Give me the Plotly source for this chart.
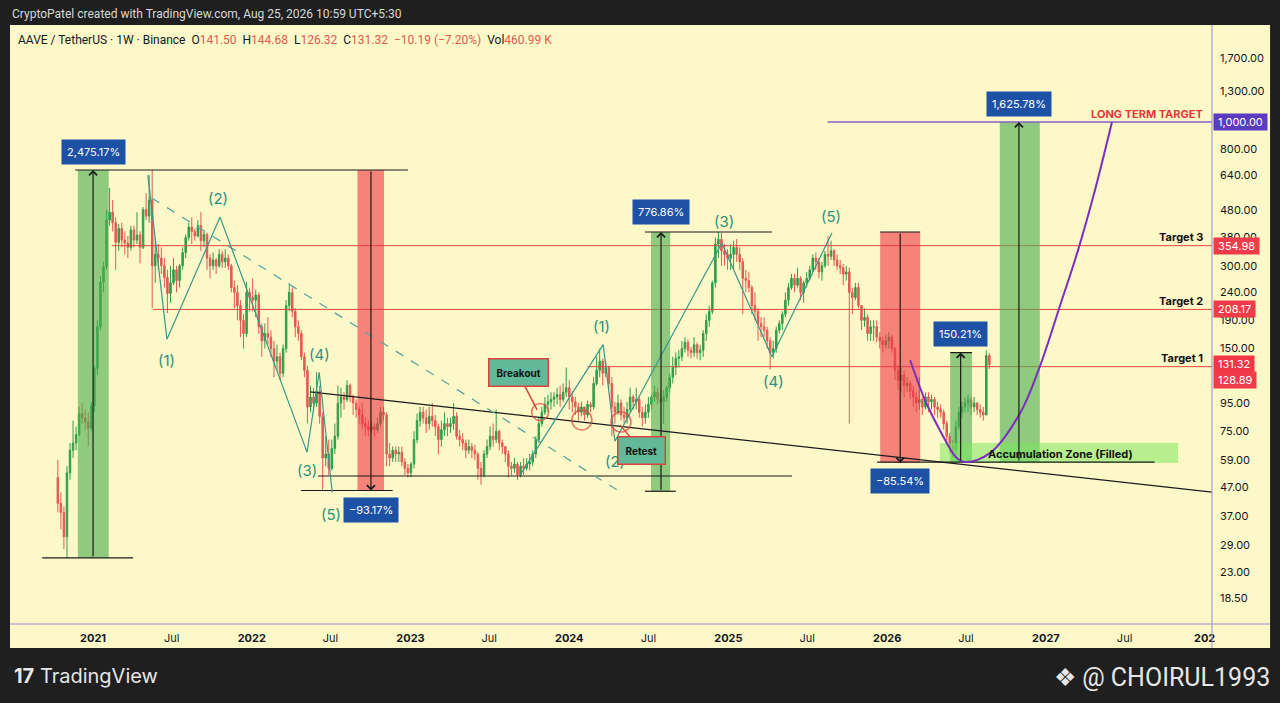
import numpy as np
import pandas as pd
import plotly.graph_objects as go

# ---- AAVE / USDT weekly candles (one row per month) ----
first_open = 51
closes_2020 = [41, 38, 31, 53, 64, 68, 73, 87, 84, 81, 77, 93]
highs_2020 = [59, 45, 40, 56, 68, 82, 78, 92, 95, 90, 88, 96]
lows_2020 = [38, 33, 28, 26, 50, 60, 64, 72, 80, 76, 66, 75]

closes_2021 = [127, 180, 262, 297, 440, 470, 430, 365, 410, 372, 363, 350, 405,
               372, 388, 350, 480, 455, 520, 300, 330, 320, 300, 272, 238, 260,
               290, 265, 300, 335, 380, 415, 400, 385, 420, 370, 390, 320, 300,
               315, 300, 330, 310, 320, 300, 250, 240, 215, 190, 170, 240, 230]
highs_2021 = [130, 190, 275, 310, 480, 575, 520, 450, 425, 430, 400, 385, 420,
              420, 470, 400, 490, 551, 641, 669, 380, 360, 350, 320, 290, 300,
              320, 300, 305, 350, 390, 430, 450, 410, 440, 470, 400, 395, 330,
              335, 320, 345, 340, 345, 330, 305, 265, 255, 225, 200, 262, 250]
lows_2021 = [88, 120, 175, 240, 290, 420, 400, 290, 340, 350, 330, 320, 340,
             350, 360, 306, 345, 440, 430, 210, 260, 290, 280, 250, 202, 220,
             255, 240, 250, 290, 320, 370, 360, 370, 380, 340, 350, 290, 270,
             290, 280, 295, 295, 295, 290, 240, 210, 190, 165, 150, 165, 205]

closes_2022 = [225, 235, 180, 160, 170, 165, 150, 135, 140, 122, 150, 215, 240,
               205, 180, 170, 140, 125, 92, 100, 95, 105, 85, 60, 62, 55,
               65, 72, 95, 100, 98, 110, 100, 95, 90, 86, 80, 78, 76,
               78, 76, 80, 88, 86, 62, 60, 64, 62, 63, 58, 55, 53]
highs_2022 = [270, 245, 240, 185, 185, 195, 175, 160, 155, 145, 155, 225, 260,
              250, 210, 190, 175, 145, 130, 110, 108, 123, 110, 88, 72, 70,
              70, 80, 110, 108, 104, 115, 112, 102, 98, 92, 95, 84, 82,
              82, 80, 84, 92, 92, 88, 68, 66, 66, 66, 66, 60, 57]
lows_2022 = [205, 195, 170, 140, 150, 155, 140, 118, 125, 115, 118, 145, 205,
             195, 165, 160, 136, 118, 80, 88, 88, 92, 80, 46, 56, 52,
             54, 62, 70, 84, 90, 96, 96, 86, 84, 80, 76, 72, 72,
             74, 72, 74, 78, 82, 56, 56, 58, 58, 58, 56, 52, 51]

closes_2023 = [57, 70, 82, 88, 84, 80, 85, 82, 78, 70, 76, 80, 78,
               80, 85, 72, 70, 68, 64, 66, 64, 62, 55, 52, 62, 66,
               72, 70, 75, 68, 66, 62, 56, 55, 57, 52, 56, 55, 57,
               58, 62, 70, 80, 88, 94, 96, 98, 100, 102, 98, 104, 108]
highs_2023 = [58, 75, 87, 92, 92, 90, 92, 95, 86, 80, 82, 88, 84,
              84, 95, 88, 76, 74, 70, 70, 68, 67, 63, 58, 64, 70,
              78, 80, 90, 76, 70, 66, 64, 58, 60, 58, 58, 60, 60,
              62, 64, 72, 84, 92, 100, 102, 104, 104, 108, 110, 112, 128]
lows_2023 = [51, 55, 68, 78, 80, 74, 76, 78, 72, 62, 66, 72, 72,
             74, 76, 70, 66, 64, 60, 62, 60, 59, 50, 48, 51, 60,
             64, 66, 68, 64, 62, 58, 51, 52, 53, 50, 51, 52, 54,
             54, 56, 60, 68, 78, 86, 88, 90, 92, 94, 92, 96, 100]

closes_2024 = [100, 96, 92, 88, 92, 86, 94, 92, 112, 125, 135, 122, 128,
               112, 92, 88, 95, 86, 84, 90, 100, 96, 98, 88, 84, 88,
               94, 100, 104, 98, 96, 100, 108, 118, 128, 138, 140, 150, 158, 148,
               145, 155, 145, 148, 170, 190, 205, 260, 360, 375, 340, 330, 320]
highs_2024 = [115, 105, 100, 95, 96, 92, 97, 96, 118, 140, 150, 138, 135,
              130, 118, 96, 102, 98, 92, 96, 108, 102, 108, 100, 92, 94,
              100, 102, 110, 108, 106, 106, 110, 122, 140, 145, 148, 160, 165, 162,
              152, 165, 158, 155, 175, 200, 215, 265, 380, 398, 395, 360, 345]
lows_2024 = [90, 88, 86, 82, 85, 82, 84, 88, 90, 110, 118, 110, 118,
             108, 72, 80, 86, 82, 80, 80, 88, 90, 90, 84, 78, 80,
             84, 90, 96, 94, 94, 80, 96, 104, 112, 120, 128, 135, 145, 140,
             138, 140, 138, 136, 140, 160, 180, 200, 250, 320, 300, 300, 290]

closes_2025 = [330, 350, 330, 310, 270, 265, 250, 215, 205, 185, 180, 175, 160,
               145, 150, 175, 185, 200, 225, 250, 270, 255, 270, 240, 260, 270,
               290, 320, 310, 285, 300, 330, 325, 340, 315, 300, 295, 280, 285,
               240, 230, 250, 215, 190, 195, 170, 180, 180, 165, 160, 155, 160]
highs_2025 = [360, 370, 375, 350, 320, 290, 285, 255, 240, 210, 195, 195, 180,
              165, 160, 180, 190, 205, 240, 260, 280, 280, 295, 275, 265, 285,
              300, 330, 335, 320, 310, 340, 385, 370, 345, 330, 315, 305, 300,
              295, 250, 260, 260, 215, 210, 200, 190, 190, 190, 172, 165, 168]
lows_2025 = [290, 290, 310, 290, 200, 240, 240, 200, 190, 160, 165, 165, 150,
             126, 138, 145, 170, 175, 195, 215, 245, 240, 250, 225, 220, 250,
             265, 285, 290, 270, 265, 295, 300, 315, 300, 290, 280, 255, 265,
             80, 200, 225, 210, 175, 180, 160, 160, 160, 158, 150, 145, 150]

closes_2026 = [165, 150, 125, 115, 120, 110, 112, 105, 100, 95, 98, 92, 100,
               96, 98, 92, 90, 88, 80, 72, 66, 64, 78, 88, 92, 95,
               98, 92, 95, 90, 88, 86, 141.5, 131.32]
highs_2026 = [172, 168, 152, 130, 128, 125, 118, 115, 110, 104, 118, 100, 104,
              104, 102, 100, 96, 94, 90, 82, 74, 70, 82, 92, 96, 100,
              102, 100, 100, 96, 94, 92, 148, 144.68]
lows_2026 = [150, 145, 115, 106, 104, 100, 104, 98, 92, 88, 90, 86, 90,
             88, 90, 86, 84, 84, 76, 68, 62, 60, 62, 76, 84, 88,
             88, 86, 88, 86, 84, 82, 86, 126.32]

closes = closes_2020 + closes_2021 + closes_2022 + closes_2023 + closes_2024 + closes_2025 + closes_2026
highs = highs_2020 + highs_2021 + highs_2022 + highs_2023 + highs_2024 + highs_2025 + highs_2026
lows = lows_2020 + lows_2021 + lows_2022 + lows_2023 + lows_2024 + lows_2025 + lows_2026
opens = [first_open] + closes[:-1]
weeks = pd.date_range("2020-10-12", periods=len(closes), freq="W-MON")

# ---- drawings (dates / prices) ----
x_end = "2028-01-18"

# measured moves: coloured band + arrow + blue % label
move_start = ["2020-11-27", "2022-09-01", "2024-07-07", "2025-12-16", "2026-05-26", "2026-09-17"]
move_end = ["2021-02-06", "2022-11-01", "2024-08-20", "2026-03-18", "2026-07-15", "2026-12-18"]
move_mid = ["2021-01-01", "2022-10-02", "2024-07-30", "2026-01-31", "2026-06-19", "2026-10-31"]
move_from = [26, 669, 45.4, 398, 57.95, 57.95]
move_to = [669, 45.7, 398, 57.6, 145, 1000]
move_text = ["2,475.17%", "−93.17%", "776.86%", "−85.54%", "150.21%", "1,625.78%"]
move_label_price = [778, 38.8, 471, 49.5, 169.5, 1163]

# black horizontal rulers
ruler_x0 = ["2020-11-21", "2020-09-06", "2022-04-24", "2024-06-23", "2024-06-23",
            "2025-12-16", "2025-12-09", "2026-05-26", "2022-06-02"]
ruler_x1 = ["2022-12-26", "2021-04-03", "2022-11-21", "2025-04-11", "2024-09-02",
            "2026-03-18", "2027-09-08", "2026-07-15", "2025-05-27"]
ruler_price = [669, 26, 45.7, 398, 45.4, 398, 57.95, 145, 51.6]

trend_x = ["2022-05-15", x_end]
trend_y = [104.3, 45.1]
dashed_x = ["2021-05-16", "2024-04-20"]
dashed_y = [529, 45.9]

target_start = ["2021-02-13", "2021-05-19", "2024-02-12"]
target_price = [354.98, 208.17, 128.89]
target_names = ["Target 3", "Target 2", "Target 1"]
target_label_price = [382, 223.4, 138.7]

# Elliott waves
wave_down_x = ["2021-05-07", "2021-06-20", "2021-10-20", "2022-05-08", "2022-06-05", "2022-07-05"]
wave_down_y = [641, 162, 451, 63, 123, 45]
wave_up_x = ["2023-09-10", "2024-03-19", "2024-04-15", "2024-12-17", "2025-04-11", "2025-08-27"]
wave_up_y = [52, 155, 69, 363, 140, 395]
wave_names = ["(1)", "(2)", "(3)", "(4)", "(5)"]
wave_down_lx = ["2021-06-20", "2021-10-15", "2022-05-08", "2022-06-05", "2022-07-01"]
wave_down_ly = [136, 525, 54, 143, 37.5]
wave_up_lx = ["2024-03-16", "2024-04-15", "2024-12-22", "2025-04-14", "2025-08-24"]
wave_up_ly = [181, 58.5, 433, 114, 455]

# projected curve to the long term target
curve_x = ["2026-02-23", "2026-03-29", "2026-05-02", "2026-06-10", "2026-07-03", "2026-08-26",
           "2026-11-03", "2026-12-18", "2027-02-03", "2027-03-16", "2027-04-24", "2027-06-02"]
curve_y = [136, 97.5, 75.9, 60.0, 57.95, 62.6, 87.5, 128.9, 216, 342, 566, 1000]
long_target = 1000

zone_x = ["2026-05-02", "2027-11-01"]
zone_y = [57.5, 68.0]

circle_x = ["2023-10-26", "2024-01-30", "2024-04-29"]
circle_y = [88.2, 82.5, 81.1]
circle_size = [17, 20, 20]

price_ticks = [18.5, 23, 29, 37, 47, 59, 75, 95, 150, 190, 240, 300, 380, 480, 640, 800, 1300, 1700]
time_ticks = ["2021-01-01", "2021-07-01", "2022-01-01", "2022-07-01", "2023-01-01", "2023-07-01",
              "2024-01-01", "2024-07-01", "2025-01-01", "2025-07-01", "2026-01-01", "2026-07-01",
              "2027-01-01", "2027-07-01", "2028-01-01"]
time_labels = ["<b>2021</b>", "Jul", "<b>2022</b>", "Jul", "<b>2023</b>", "Jul", "<b>2024</b>", "Jul",
               "<b>2025</b>", "Jul", "<b>2026</b>", "Jul", "<b>2027</b>", "Jul", "<b>202</b>"]

UP = "#2f9e48"
DOWN = "#e35a55"
TEAL = "#3a978a"
BLACK = "#1b1b1b"
RED_LINE = "#e2463f"
PURPLE = "#7a2fc0"
BLUE = "#1d51a6"
YELLOW = "#fdf8c8"
DARK = "#1f1f1f"
FONT = "Inter, Roboto, sans-serif"
HEAD_FONT = "Roboto, sans-serif"

fig = go.Figure()

fig.add_trace(go.Candlestick(
    x=weeks, open=opens, high=highs, low=lows, close=closes,
    increasing=dict(line=dict(color=UP, width=1), fillcolor=UP),
    decreasing=dict(line=dict(color=DOWN, width=1), fillcolor=DOWN),
    whiskerwidth=0, hoverinfo="skip", showlegend=False))


def line(x, y, color, width=1.2, dash=None, shape="linear"):
    fig.add_trace(go.Scatter(x=x, y=y, mode="lines", hoverinfo="skip", showlegend=False,
                             line=dict(color=color, width=width, dash=dash, shape=shape)))


def band(x0, x1, y0, y1, color):
    fig.add_trace(go.Scatter(x=[x0, x1, x1, x0, x0], y=[y0, y0, y1, y1, y0], mode="lines",
                             fill="toself", fillcolor=color, line=dict(width=0),
                             hoverinfo="skip", showlegend=False))


# target lines
for x0, p in zip(target_start, target_price):
    line([x0, x_end], [p, p], RED_LINE, 1)

# measured move bands
for i in range(len(move_text)):
    up = move_to[i] > move_from[i]
    col = "rgba(76,175,80,0.62)" if up else "rgba(242,54,69,0.6)"
    band(move_start[i], move_end[i], move_from[i], move_to[i], col)

band(zone_x[0], zone_x[1], zone_y[0], zone_y[1], "rgba(125,232,95,0.55)")

# rulers, trend lines
for x0, x1, p in zip(ruler_x0, ruler_x1, ruler_price):
    line([x0, x1], [p, p], BLACK, 1.2)
line(trend_x, trend_y, BLACK, 1.2)
line(dashed_x, dashed_y, "#5aa8a0", 1.3, dash="dash")

# waves
line(wave_down_x, wave_down_y, TEAL, 1.2)
line(wave_up_x, wave_up_y, TEAL, 1.2)

# long term target
line(["2025-08-17", x_end], [long_target, long_target], "#8a5cc8", 1.5)
line(curve_x, curve_y, PURPLE, 2, shape="spline")

# retest circles
fig.add_trace(go.Scatter(x=circle_x, y=circle_y, mode="markers", hoverinfo="skip", showlegend=False,
                         marker=dict(symbol="circle-open", size=circle_size,
                                     line=dict(color="#d8453c", width=1.6), color="#d8453c")))

ann = []
L = np.log10

# arrows + % labels
for i in range(len(move_text)):
    ann.append(dict(x=move_mid[i], y=L(move_to[i]), ax=move_mid[i], ay=L(move_from[i]),
                    xref="x", yref="y", axref="x", ayref="y", text="", showarrow=True,
                    arrowhead=4, arrowsize=1.3, arrowwidth=1.2, arrowcolor=BLACK))
    ann.append(dict(x=move_mid[i], y=L(move_label_price[i]), xref="x", yref="y",
                    text=move_text[i], showarrow=False, bgcolor=BLUE, borderpad=5,
                    font=dict(color="white", size=11, family=FONT)))

# wave labels
for names, xs, ys in [(wave_names, wave_down_lx, wave_down_ly), (wave_names, wave_up_lx, wave_up_ly)]:
    for t, x, y in zip(names, xs, ys):
        ann.append(dict(x=x, y=L(y), xref="x", yref="y", text=t, showarrow=False,
                        font=dict(color="#2e8f80", size=15, family=FONT)))

# target names
for t, p in zip(target_names, target_label_price):
    ann.append(dict(x=0.9942, y=L(p), xref="paper", yref="y", text="<b>" + t + "</b>",
                    xanchor="right", showarrow=False, font=dict(color="#111111", size=11, family=FONT)))
ann.append(dict(x=0.9942, y=L(1069), xref="paper", yref="y", text="<b>LONG TERM TARGET</b>",
                xanchor="right", showarrow=False, font=dict(color="#e03a3a", size=11, family=FONT)))

ann.append(dict(x="2027-02-03", y=L(62.0), xref="x", yref="y", text="<b>Accumulation Zone (Filled)</b>",
                showarrow=False, font=dict(color="#111111", size=11, family=FONT)))

# callouts
ann.append(dict(x="2023-10-19", y=L(89.7), xref="x", yref="y", ax=-19, ay=-37, text="<b>Breakout</b>",
                showarrow=True, arrowhead=0, arrowwidth=1.5, arrowcolor="#d8453c",
                bgcolor="#62b99a", bordercolor="#d8453c", borderwidth=1.5, borderpad=7,
                font=dict(color="#111111", size=10, family=FONT)))
ann.append(dict(x="2024-04-27", y=L(79), xref="x", yref="y", ax=21, ay=25, text="<b>Retest</b>",
                showarrow=True, arrowhead=0, arrowwidth=1.5, arrowcolor="#d8453c",
                bgcolor="#62b99a", bordercolor="#d8453c", borderwidth=1.5, borderpad=7,
                font=dict(color="#111111", size=10, family=FONT)))

# price scale badges
badges = [(1000, "1,000.00", "#5b3bc2", 0), (354.98, "354.98", "#ef3b4a", 0), (208.17, "208.17", "#ef3b4a", 0),
          (131.32, "131.32", "#f23645", 0), (128.89, "128.89", "#ef3b4a", -13)]
for p, t, c, ys in badges:
    ann.append(dict(x=1.0, y=L(p), xref="paper", yref="y", xanchor="left", xshift=1, yshift=ys,
                    text="&nbsp;" + t + "&nbsp;", showarrow=False, bgcolor=c, borderpad=1,
                    font=dict(color="white", size=11, family=FONT)))

# header / footer texts
red = "#e05a50"
legend_txt = ("AAVE / TetherUS · 1W · Binance  O<span style='color:%s'>141.50</span>  "
              "H<span style='color:%s'>144.68</span>  L<span style='color:%s'>126.32</span>  "
              "C<span style='color:%s'>131.32</span>  <span style='color:%s'>−10.19 (−7.20%%)</span>  "
              "Vol<span style='color:%s'>460.99 K</span>") % ((red,) * 6)
ann.append(dict(x=0.005, y=0.975, xref="paper", yref="paper", xanchor="left", yanchor="middle",
                text=legend_txt, showarrow=False, font=dict(color="#131722", size=12, family=HEAD_FONT)))
ann.append(dict(x=0.0, y=1.0184, xref="paper", yref="paper", xanchor="left", yanchor="middle",
                text="CryptoPatel created with TradingView.com, Aug 25, 2026 10:59 UTC+5:30",
                showarrow=False, font=dict(color="#d8d8d8", size=12, family=HEAD_FONT)))
ann.append(dict(x=0.0017, y=-0.0868, xref="paper", yref="paper", xanchor="left", yanchor="middle",
                text="<b>17</b> TradingView", showarrow=False,
                font=dict(color="#e6e6e6", size=20, family=FONT)))
ann.append(dict(x=1.0499, y=-0.0885, xref="paper", yref="paper", xanchor="right", yanchor="middle",
                text="❖ @ CHOIRUL1993", showarrow=False,
                font=dict(color="#e6e6e6", size=25, family=HEAD_FONT)))

shapes = [
    dict(type="rect", xref="paper", yref="paper", x0=0, x1=1.0483, y0=-0.0401, y1=1,
         fillcolor=YELLOW, line=dict(width=0), layer="below"),
    dict(type="line", xref="paper", yref="paper", x0=0, x1=1.0483, y0=0, y1=0,
         line=dict(color="#9a8cc6", width=1)),
    dict(type="line", xref="paper", yref="paper", x0=1, x1=1, y0=-0.0401, y1=1,
         line=dict(color="#9a8cc6", width=1)),
]

fig.update_layout(
    width=1280, height=703,
    margin=dict(l=10, r=68, t=25, b=79),
    paper_bgcolor=DARK, plot_bgcolor=YELLOW,
    showlegend=False, hovermode=False,
    annotations=ann, shapes=shapes,
    font=dict(family=FONT, color="#131722"),
    xaxis=dict(type="date", range=["2020-06-24", x_end], showgrid=False, zeroline=False,
               rangeslider=dict(visible=False), tickvals=time_ticks, ticktext=time_labels,
               tickfont=dict(size=11, color="#131722"), ticks="", ticklabelstandoff=6,
               showline=False, fixedrange=True),
    yaxis=dict(type="log", side="right", range=[np.log10(14.94), np.log10(2253)], showgrid=False,
               zeroline=False, tickvals=price_ticks, ticktext=[f"{v:,.2f}" for v in price_ticks],
               tickfont=dict(size=11, color="#131722"), ticks="", ticklabelstandoff=7,
               showline=False, fixedrange=True),
)

# page has a default 8px body margin; drop it so the figure fills the window
fig.write_html("out.html", config={"displayModeBar": False},
               post_script="document.body.style.margin='0';document.body.style.background='#1f1f1f';")
